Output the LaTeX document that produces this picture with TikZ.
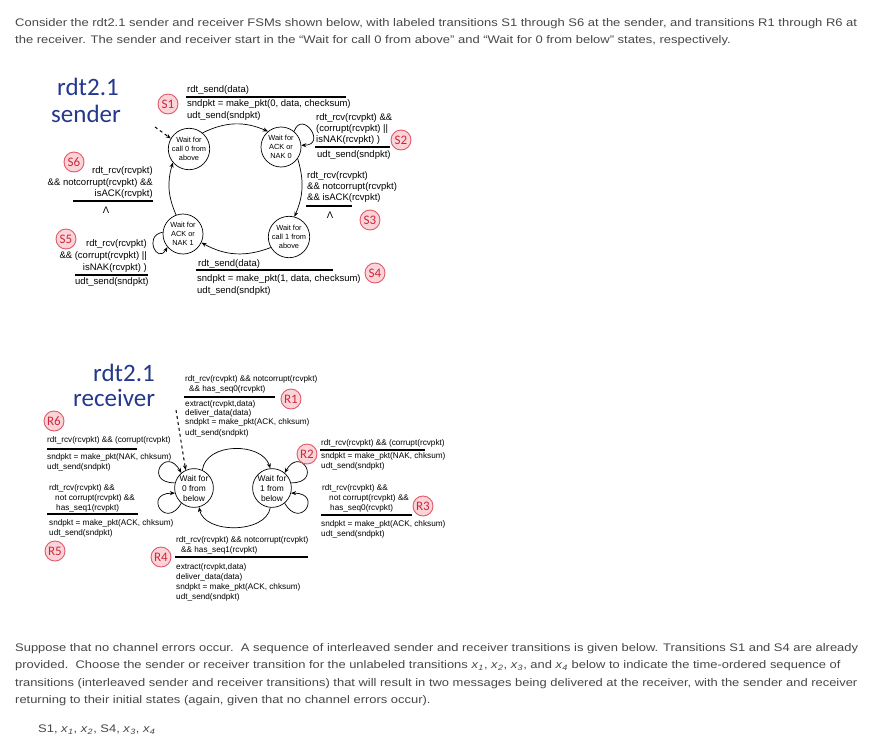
\documentclass[tikz,border=0pt]{standalone}
\usepackage{fontspec}
\setmainfont{Liberation Sans}
\newfontfamily\calib{Carlito}
\usetikzlibrary{arrows.meta}
\definecolor{ptext}{HTML}{474747}
\definecolor{tblue}{HTML}{24388C}
\definecolor{tagred}{HTML}{C8283A}
\definecolor{tagline}{HTML}{E05A68}
\definecolor{tagpink}{HTML}{FAD4D9}
\newlength\plenA
\newlength\plenB
\newcommand\pfont{\fontsize{11}{13}\selectfont}
\newcommand\xv[1]{\textit{x}\textsubscript{\textit{#1}}}
\newcommand\PA[1]{\scalebox{\pra}[1]{\pfont #1}}
\newcommand\PB[1]{\scalebox{\prb}[1]{\pfont #1}}
\newcommand\lineA{Consider the rdt2.1 sender and receiver FSMs shown below, with labeled transitions S1 through S6 at the sender, and transitions R1 through R6 at}
\newcommand\lineB{Suppose that no channel errors occur.\ \ A sequence of interleaved sender and receiver transitions is given below. Transitions S1 and S4 are already}
\tikzset{
 every node/.style={inner sep=0pt},
 para/.style={anchor=west, text=ptext, text height=8pt, text depth=2.5pt},
 stx/.style={anchor=west, font=\fontsize{9.5}{11}\selectfont, text height=7pt, text depth=2pt},
 stxr/.style={stx, anchor=east},
 rtx/.style={anchor=west, font=\fontsize{8.2}{10}\selectfont, text height=6pt, text depth=2pt},
 title/.style={anchor=base west, font=\calib\fontsize{25}{25}\selectfont, text=tblue},
 tag/.style={circle, draw=tagline, line width=0.9pt, fill=tagpink, text=tagred, minimum size=20pt, font=\calib\fontsize{13}{13}\selectfont},
 st/.style={circle, draw, line width=0.7pt, minimum size=40pt, align=center, font=\fontsize{7.4}{9}\selectfont},
 rst/.style={circle, draw, line width=0.7pt, minimum size=35pt, align=center, font=\fontsize{8.4}{10}\selectfont},
 arr/.style={line width=0.7pt, -{Stealth[length=5pt,width=4pt]}},
 dsh/.style={arr, dash pattern=on 3pt off 3pt, line width=1pt},
 rule/.style={line width=1.1pt},
}
\begin{document}
\settowidth\plenA{\pfont\lineA}%
\pgfmathsetmacro\pra{842/\the\plenA}%
\settowidth\plenB{\pfont\lineB}%
\pgfmathsetmacro\prb{843/\the\plenB}%
\begin{tikzpicture}[x=1pt,y=1pt]
\fill[white] (0,0) rectangle (872,-745);
\useasboundingbox (0,0) rectangle (872,-745);
% paragraph top
\node[para] (p1) at (15,-24) {\PA{\lineA}};
\node[para] (p2) at (15,-41) {\PA{the receiver. The sender and receiver start in the “Wait for call 0 from above” and “Wait for 0 from below” states, respectively.}};
% sender
\node[title] (t1) at (57,-95) {rdt2.1};
\node[title] (t2) at (51,-122) {sender};
\node[st] (A) at (189,-149) {Wait for\\call 0 from\\above};
\node[st] (B) at (281,-147) {Wait for\\ACK or\\NAK 0};
\node[st] (C) at (289,-237) {Wait for\\call 1 from\\above};
\node[st] (D) at (183,-234) {Wait for\\ACK or\\NAK 1};
\draw[arr] (A.50) to[bend left=25] (B.130);
\draw[arr] (B.-35) to[bend left=20] (C.75);
\draw[arr] (C.-150) to[bend left=25] (D.-25);
\draw[arr] (D.110) to[bend left=20] (A.-140);
\draw[arr] (B.50) .. controls +(70:24) and +(0:26) .. (B.5);
\draw[arr] (D.175) .. controls +(190:20) and +(-120:20) .. (D.-140);
\coordinate (a0) at (155,-127);
\draw[dsh] (a0) -- (A.150);
% S1
\node[tag] (S1) at (168,-104) {S1};
\node[stx] (s1a) at (187,-90) {rdt\_send(data)};
\draw[rule] (186,-97) -- (346,-97);
\node[stx] (s1b) at (187,-104) {sndpkt = make\_pkt(0, data, checksum)};
\node[stx] (s1c) at (187,-116) {udt\_send(sndpkt)};
% S2
\node[tag] (S2) at (401,-140) {S2};
\node[stx] (s2a) at (316,-118) {rdt\_rcv(rcvpkt) \&\&};
\node[stx] (s2b) at (316,-129) {(corrupt(rcvpkt) ||};
\node[stx] (s2c) at (316,-140) {isNAK(rcvpkt) )};
\draw[rule] (315,-147) -- (390,-147);
\node[stx] (s2d) at (317,-155) {udt\_send(sndpkt)};
% S3
\node[tag] (S3) at (370,-220) {S3};
\node[stx] (s3a) at (307,-176) {rdt\_rcv(rcvpkt)};
\node[stx] (s3b) at (307,-187) {\&\& notcorrupt(rcvpkt)};
\node[stx] (s3c) at (307,-198) {\&\& isACK(rcvpkt)};
\draw[rule] (306,-206) -- (352,-206);
\node[stx, anchor=center] (s3d) at (330,-216) {Λ};
% S4
\node[tag] (S4) at (375,-273) {S4};
\node[stx] (s4a) at (198,-264) {rdt\_send(data)};
\draw[rule] (196,-270) -- (333,-270);
\node[stx] (s4b) at (197,-279) {sndpkt = make\_pkt(1, data, checksum)};
\node[stx] (s4c) at (197,-291) {udt\_send(sndpkt)};
% S5
\node[tag] (S5) at (66,-239) {S5};
\node[stxr] (s5a) at (147,-244) {rdt\_rcv(rcvpkt)};
\node[stxr] (s5b) at (147,-256) {\&\& (corrupt(rcvpkt) ||};
\node[stxr] (s5c) at (147,-268) {isNAK(rcvpkt) )};
\draw[rule] (75,-275) -- (148,-275);
\node[stx] (s5d) at (75,-282) {udt\_send(sndpkt)};
% S6
\node[tag] (S6) at (74,-162) {S6};
\node[stxr] (s6a) at (153,-171) {rdt\_rcv(rcvpkt)};
\node[stxr] (s6b) at (153,-183) {\&\& notcorrupt(rcvpkt) \&\&};
\node[stxr] (s6c) at (153,-194) {isACK(rcvpkt)};
\draw[rule] (73,-201) -- (153,-201);
\node[stx, anchor=center] (s6d) at (106,-211) {Λ};
% receiver
\node[title] (t3) at (93,-381) {rdt2.1};
\node[title] (t4) at (73,-406) {receiver};
\node[rst] (L) at (194,-488) {Wait for\\0 from\\below};
\node[rst] (R) at (272,-488) {Wait for\\1 from\\below};
\draw[arr] (L.65) .. controls (206,-442) and (262,-442) .. (R.95);
\draw[arr] (R.-95) .. controls (266,-534) and (204,-534) .. (L.-75);
\draw[arr] (L.165) .. controls +(180:32) and +(120:32) .. (L.130);
\draw[arr] (L.-130) .. controls +(-120:32) and +(180:32) .. (L.-165);
\draw[arr] (R.15) .. controls +(0:32) and +(60:32) .. (R.50);
\draw[arr] (R.-50) .. controls +(-60:32) and +(0:32) .. (R.-15);
\coordinate (r0) at (176,-410);
\draw[dsh] (r0) -- (L.115);
% R1
\node[tag] (R1) at (291,-399) {R1};
\node[rtx] (r1a) at (185,-379) {rdt\_rcv(rcvpkt) \&\& notcorrupt(rcvpkt)};
\node[rtx] (r1b) at (189,-389) {\&\& has\_seq0(rcvpkt)};
\draw[rule] (184,-397) -- (275,-397);
\node[rtx] (r1c) at (185,-404) {extract(rcvpkt,data)};
\node[rtx] (r1d) at (185,-413) {deliver\_data(data)};
\node[rtx] (r1e) at (185,-422) {sndpkt = make\_pkt(ACK, chksum)};
\node[rtx] (r1f) at (185,-433) {udt\_send(sndpkt)};
% R6
\node[tag] (R6) at (54,-421) {R6};
\node[rtx] (r6a) at (47,-440) {rdt\_rcv(rcvpkt) \&\& (corrupt(rcvpkt)};
\draw[rule] (47,-449) -- (137,-449);
\node[rtx] (r6b) at (47,-457) {sndpkt = make\_pkt(NAK, chksum)};
\node[rtx] (r6c) at (47,-467) {udt\_send(sndpkt)};
% R5
\node[rtx] (r5a) at (49,-488) {rdt\_rcv(rcvpkt) \&\&};
\node[rtx] (r5b) at (55,-498) {not corrupt(rcvpkt) \&\&};
\node[rtx] (r5c) at (56,-508) {has\_seq1(rcvpkt)};
\draw[rule] (47,-514) -- (138,-514);
\node[rtx] (r5d) at (49,-523) {sndpkt = make\_pkt(ACK, chksum)};
\node[rtx] (r5e) at (49,-533) {udt\_send(sndpkt)};
\node[tag] (R5) at (55,-551) {R5};
% R2
\node[tag] (R2) at (307,-454) {R2};
\node[rtx] (r2a) at (321,-443) {rdt\_rcv(rcvpkt) \&\& (corrupt(rcvpkt)};
\draw[rule] (320,-450) -- (425,-450);
\node[rtx] (r2b) at (321,-456) {sndpkt = make\_pkt(NAK, chksum)};
\node[rtx] (r2c) at (321,-466) {udt\_send(sndpkt)};
% R3
\node[rtx] (r3a) at (322,-488) {rdt\_rcv(rcvpkt) \&\&};
\node[rtx] (r3b) at (329,-498) {not corrupt(rcvpkt) \&\&};
\node[rtx] (r3c) at (330,-508) {has\_seq0(rcvpkt)};
\draw[rule] (321,-515) -- (412,-515);
\node[rtx] (r3d) at (321,-524) {sndpkt = make\_pkt(ACK, chksum)};
\node[rtx] (r3e) at (321,-534) {udt\_send(sndpkt)};
\node[tag] (R3) at (423,-506) {R3};
% R4
\node[tag] (R4) at (161,-557) {R4};
\node[rtx] (r4a) at (176,-540) {rdt\_rcv(rcvpkt) \&\& notcorrupt(rcvpkt)};
\node[rtx] (r4b) at (181,-550) {\&\& has\_seq1(rcvpkt)};
\draw[rule] (175,-557) -- (308,-557);
\node[rtx] (r4c) at (176,-567) {extract(rcvpkt,data)};
\node[rtx] (r4d) at (176,-577) {deliver\_data(data)};
\node[rtx] (r4e) at (176,-587) {sndpkt = make\_pkt(ACK, chksum)};
\node[rtx] (r4f) at (176,-597) {udt\_send(sndpkt)};
% bottom paragraph
\node[para] (q1) at (15,-649) {\PB{\lineB}};
\node[para] (q2) at (15,-666) {\PB{provided.\ \ Choose the sender or receiver transition for the unlabeled transitions \xv{1}, \xv{2}, \xv{3}, and \xv{4} below to indicate the time-ordered sequence of}};
\node[para] (q3) at (15,-684) {\PB{transitions (interleaved sender and receiver transitions) that will result in two messages being delivered at the receiver, with the sender and receiver}};
\node[para] (q4) at (15,-701) {\PB{returning to their initial states (again, given that no channel errors occur).}};
\node[para] (q5) at (38,-730) {\PB{S1, \xv{1}, \xv{2}, S4, \xv{3}, \xv{4}}};
\end{tikzpicture}
\end{document}
